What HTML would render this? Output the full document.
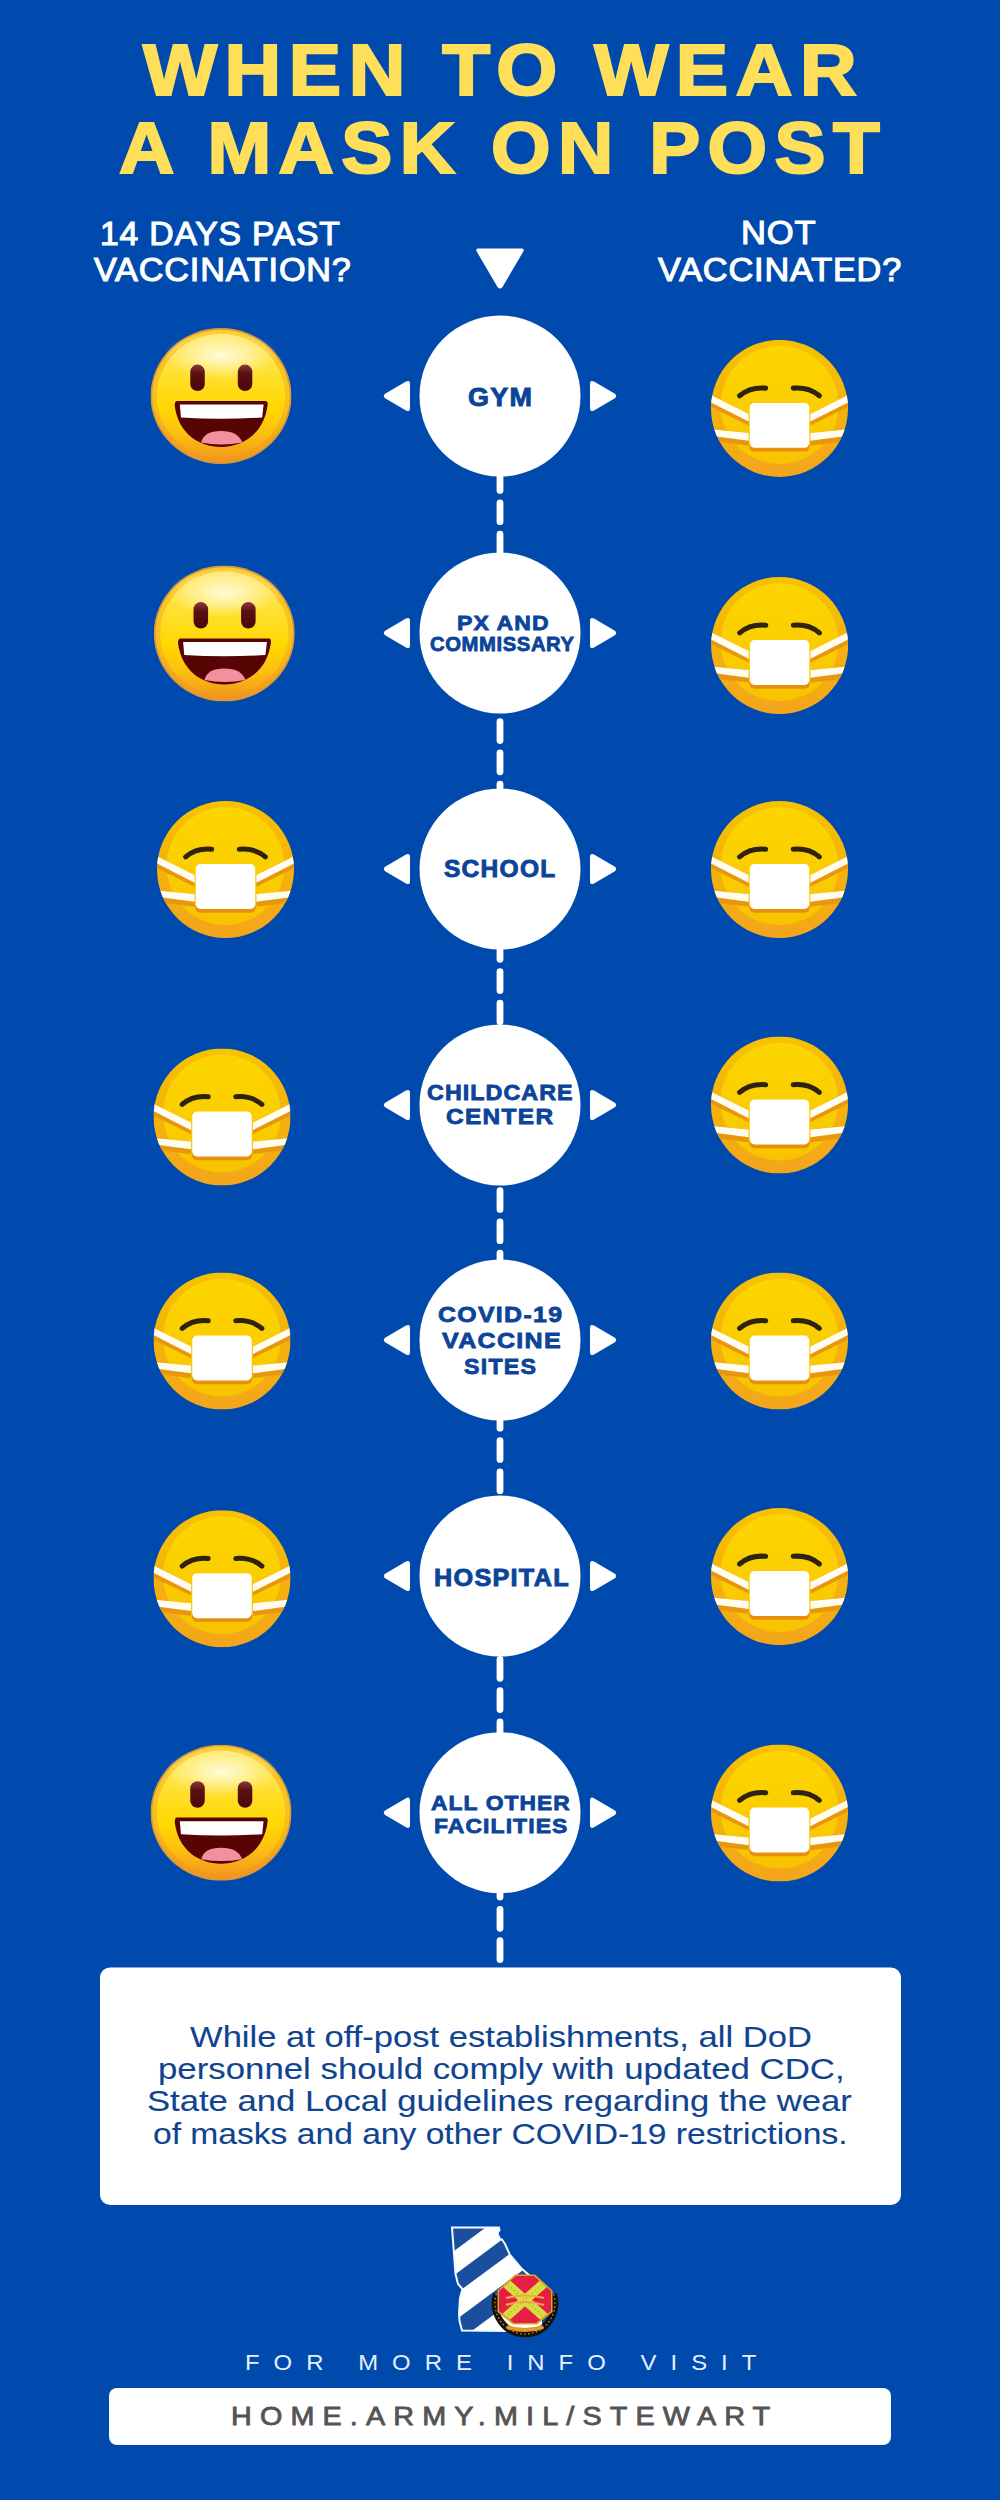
<!DOCTYPE html>
<html><head><meta charset="utf-8"><title>When to wear a mask on post</title>
<style>
html,body{margin:0;padding:0}
body{width:1000px;height:2500px;background:#004AAD;position:relative;overflow:hidden;font-family:"Liberation Sans",sans-serif}
svg.g{position:absolute;left:0;top:0}
.t{position:absolute;white-space:nowrap;transform-origin:0 0;font-family:"Liberation Sans",sans-serif}
</style></head><body>
<svg class="g" width="1000" height="2500" viewBox="0 0 1000 2500">

<defs>
 <clipPath id="mclip"><circle cx="50" cy="50" r="50"/></clipPath>
 <linearGradient id="mface" x1="0" y1="0" x2="0" y2="1">
  <stop offset="0" stop-color="#FCD600"/>
  <stop offset="0.6" stop-color="#FACC00"/>
  <stop offset="1" stop-color="#F8C200"/>
 </linearGradient>
 <linearGradient id="mring" x1="0" y1="0" x2="0" y2="1">
  <stop offset="0" stop-color="#F7C200"/>
  <stop offset="0.5" stop-color="#F5B20A"/>
  <stop offset="1" stop-color="#F4A51C"/>
 </linearGradient>
 <linearGradient id="grim" x1="0" y1="0" x2="0" y2="1">
  <stop offset="0" stop-color="#F9CB30"/>
  <stop offset="0.6" stop-color="#F8BE1A"/>
  <stop offset="1" stop-color="#F0951E"/>
 </linearGradient>
 <linearGradient id="gbase" x1="0" y1="0" x2="0" y2="1">
  <stop offset="0" stop-color="#FFEA70"/>
  <stop offset="0.35" stop-color="#FFDF2A"/>
  <stop offset="0.6" stop-color="#FFD700"/>
  <stop offset="0.8" stop-color="#FDC010"/>
  <stop offset="1" stop-color="#F39A1C"/>
 </linearGradient>
 <radialGradient id="ghl" cx="0.5" cy="0.5" r="0.5">
  <stop offset="0" stop-color="#FFFCE6" stop-opacity="0.95"/>
  <stop offset="0.55" stop-color="#FFF6B8" stop-opacity="0.6"/>
  <stop offset="1" stop-color="#FFF0A0" stop-opacity="0"/>
 </radialGradient>
 <linearGradient id="geye" x1="0" y1="0" x2="0" y2="1">
  <stop offset="0" stop-color="#8A3A3A"/>
  <stop offset="0.35" stop-color="#5A1010"/>
  <stop offset="1" stop-color="#4A0707"/>
 </linearGradient>
 <symbol id="mask" viewBox="0 0 100 100">
  <circle cx="50" cy="50" r="50" fill="url(#mring)"/>
  <circle cx="50" cy="47.5" r="43" fill="url(#mface)"/>
  <g clip-path="url(#mclip)">
   <polygon points="-5,37.8 27.5,54 27.5,62.5 -5,46.6" fill="#E8960E"/>
   <polygon points="-5,37.8 27.5,54 27.5,59.6 -5,43.1" fill="#FFFDF2"/>
   <polygon points="105,37.8 72.5,54 72.5,62.5 105,46.6" fill="#E8960E"/>
   <polygon points="105,37.8 72.5,54 72.5,59.6 105,43.1" fill="#FFFDF2"/>
   <polygon points="-5,64.8 27.5,67.9 27.5,77.2 -5,73" fill="#E8960E"/>
   <polygon points="-5,64.8 27.5,67.9 27.5,73.6 -5,69.3" fill="#FFFDF2"/>
   <polygon points="105,64.8 72.5,67.9 72.5,77.2 105,73" fill="#E8960E"/>
   <polygon points="105,64.8 72.5,67.9 72.5,73.6 105,69.3" fill="#FFFDF2"/>
  </g>
  <rect x="28" y="73.5" width="44" height="8" rx="3.5" fill="#E8900E"/>
  <rect x="28.3" y="46" width="43.4" height="32.8" rx="3.5" fill="#FFFFFF"/>
  <path d="M20.9,40.8 Q28.6,34.2 39.9,35.2" fill="none" stroke="#2E2210" stroke-width="3.7" stroke-linecap="round"/>
  <path d="M60.1,35.2 Q71.4,34.2 79.1,40.8" fill="none" stroke="#2E2210" stroke-width="3.7" stroke-linecap="round"/>
 </symbol>
 <symbol id="grin" viewBox="0 0 100 100" preserveAspectRatio="none">
  <circle cx="50" cy="50" r="50" fill="#D8983A"/>
  <circle cx="50" cy="50" r="48.8" fill="url(#grim)"/>
  <circle cx="50" cy="50" r="45.5" fill="url(#gbase)"/>
  <ellipse cx="50" cy="20" rx="40" ry="18" fill="url(#ghl)"/>
  <rect x="28.2" y="26.9" width="10.3" height="19.5" rx="5.15" fill="url(#geye)"/>
  <rect x="61.9" y="26.9" width="10.3" height="19.5" rx="5.15" fill="url(#geye)"/>
  <path d="M18.5,53.6 L82,53.6 Q83.5,54 83,57 C80.5,77 66,87.5 50,87.5 C34,87.5 19.5,77 17.2,57 Q17,54 18.5,53.6 Z" fill="#560404"/>
  <path d="M20.8,56.3 L80.2,56.3 L79.2,65.8 Q50,67.8 21.6,65.8 Z" fill="#FFFFFF"/>
  <path d="M35.9,84.2 Q38,75.8 50,75.8 Q62,75.8 65.1,84.2 Q50,87 35.9,84.2 Z" fill="#F4909E"/>
 </symbol>
</defs>

<path d="M478.5,248.5 L521.5,248.5 Q525,248.5 523,252 L502.5,287 Q500,290 497.5,287 L477,252 Q475,248.5 478.5,248.5 Z" fill="#fff"/>
<rect x="496.6" y="405.73" width="6.8" height="25.6" rx="3.4" fill="#fff"/>
<rect x="496.6" y="436.98" width="6.8" height="25.6" rx="3.4" fill="#fff"/>
<rect x="496.6" y="468.24" width="6.8" height="25.6" rx="3.4" fill="#fff"/>
<rect x="496.6" y="499.50" width="6.8" height="25.6" rx="3.4" fill="#fff"/>
<rect x="496.6" y="530.76" width="6.8" height="25.6" rx="3.4" fill="#fff"/>
<rect x="496.6" y="562.02" width="6.8" height="25.6" rx="3.4" fill="#fff"/>
<rect x="496.6" y="593.27" width="6.8" height="25.6" rx="3.4" fill="#fff"/>
<rect x="496.6" y="624.53" width="6.8" height="25.6" rx="3.4" fill="#fff"/>
<rect x="496.6" y="655.79" width="6.8" height="25.6" rx="3.4" fill="#fff"/>
<rect x="496.6" y="687.05" width="6.8" height="25.6" rx="3.4" fill="#fff"/>
<rect x="496.6" y="718.31" width="6.8" height="25.6" rx="3.4" fill="#fff"/>
<rect x="496.6" y="749.56" width="6.8" height="25.6" rx="3.4" fill="#fff"/>
<rect x="496.6" y="780.82" width="6.8" height="25.6" rx="3.4" fill="#fff"/>
<rect x="496.6" y="812.08" width="6.8" height="25.6" rx="3.4" fill="#fff"/>
<rect x="496.6" y="843.34" width="6.8" height="25.6" rx="3.4" fill="#fff"/>
<rect x="496.6" y="874.60" width="6.8" height="25.6" rx="3.4" fill="#fff"/>
<rect x="496.6" y="905.85" width="6.8" height="25.6" rx="3.4" fill="#fff"/>
<rect x="496.6" y="937.11" width="6.8" height="25.6" rx="3.4" fill="#fff"/>
<rect x="496.6" y="968.37" width="6.8" height="25.6" rx="3.4" fill="#fff"/>
<rect x="496.6" y="999.63" width="6.8" height="25.6" rx="3.4" fill="#fff"/>
<rect x="496.6" y="1030.89" width="6.8" height="25.6" rx="3.4" fill="#fff"/>
<rect x="496.6" y="1062.14" width="6.8" height="25.6" rx="3.4" fill="#fff"/>
<rect x="496.6" y="1093.40" width="6.8" height="25.6" rx="3.4" fill="#fff"/>
<rect x="496.6" y="1124.66" width="6.8" height="25.6" rx="3.4" fill="#fff"/>
<rect x="496.6" y="1155.92" width="6.8" height="25.6" rx="3.4" fill="#fff"/>
<rect x="496.6" y="1187.18" width="6.8" height="25.6" rx="3.4" fill="#fff"/>
<rect x="496.6" y="1218.43" width="6.8" height="25.6" rx="3.4" fill="#fff"/>
<rect x="496.6" y="1249.69" width="6.8" height="25.6" rx="3.4" fill="#fff"/>
<rect x="496.6" y="1280.95" width="6.8" height="25.6" rx="3.4" fill="#fff"/>
<rect x="496.6" y="1312.21" width="6.8" height="25.6" rx="3.4" fill="#fff"/>
<rect x="496.6" y="1343.47" width="6.8" height="25.6" rx="3.4" fill="#fff"/>
<rect x="496.6" y="1374.72" width="6.8" height="25.6" rx="3.4" fill="#fff"/>
<rect x="496.6" y="1405.98" width="6.8" height="25.6" rx="3.4" fill="#fff"/>
<rect x="496.6" y="1437.24" width="6.8" height="25.6" rx="3.4" fill="#fff"/>
<rect x="496.6" y="1468.50" width="6.8" height="25.6" rx="3.4" fill="#fff"/>
<rect x="496.6" y="1499.76" width="6.8" height="25.6" rx="3.4" fill="#fff"/>
<rect x="496.6" y="1531.01" width="6.8" height="25.6" rx="3.4" fill="#fff"/>
<rect x="496.6" y="1562.27" width="6.8" height="25.6" rx="3.4" fill="#fff"/>
<rect x="496.6" y="1593.53" width="6.8" height="25.6" rx="3.4" fill="#fff"/>
<rect x="496.6" y="1624.79" width="6.8" height="25.6" rx="3.4" fill="#fff"/>
<rect x="496.6" y="1656.05" width="6.8" height="25.6" rx="3.4" fill="#fff"/>
<rect x="496.6" y="1687.30" width="6.8" height="25.6" rx="3.4" fill="#fff"/>
<rect x="496.6" y="1718.56" width="6.8" height="25.6" rx="3.4" fill="#fff"/>
<rect x="496.6" y="1749.82" width="6.8" height="25.6" rx="3.4" fill="#fff"/>
<rect x="496.6" y="1781.08" width="6.8" height="25.6" rx="3.4" fill="#fff"/>
<rect x="496.6" y="1812.34" width="6.8" height="25.6" rx="3.4" fill="#fff"/>
<rect x="496.6" y="1843.59" width="6.8" height="25.6" rx="3.4" fill="#fff"/>
<rect x="496.6" y="1874.85" width="6.8" height="25.6" rx="3.4" fill="#fff"/>
<rect x="496.6" y="1906.11" width="6.8" height="25.6" rx="3.4" fill="#fff"/>
<rect x="496.6" y="1937.37" width="6.8" height="25.6" rx="3.4" fill="#fff"/>
<circle cx="500" cy="396" r="80.5" fill="#fff"/>
<path d="M385.5,393.5 L406,381.5 Q410,379.5 410,384 L410,408 Q410,412.5 406,410.5 L385.5,398.5 Q382,396 385.5,393.5 Z" fill="#fff"/>
<path d="M614.5,393.5 L594,381.5 Q590,379.5 590,384 L590,408 Q590,412.5 594,410.5 L614.5,398.5 Q618,396 614.5,393.5 Z" fill="#fff"/>
<circle cx="500" cy="633" r="80.5" fill="#fff"/>
<path d="M385.5,630.5 L406,618.5 Q410,616.5 410,621 L410,645 Q410,649.5 406,647.5 L385.5,635.5 Q382,633 385.5,630.5 Z" fill="#fff"/>
<path d="M614.5,630.5 L594,618.5 Q590,616.5 590,621 L590,645 Q590,649.5 594,647.5 L614.5,635.5 Q618,633 614.5,630.5 Z" fill="#fff"/>
<circle cx="500" cy="869" r="80.5" fill="#fff"/>
<path d="M385.5,866.5 L406,854.5 Q410,852.5 410,857 L410,881 Q410,885.5 406,883.5 L385.5,871.5 Q382,869 385.5,866.5 Z" fill="#fff"/>
<path d="M614.5,866.5 L594,854.5 Q590,852.5 590,857 L590,881 Q590,885.5 594,883.5 L614.5,871.5 Q618,869 614.5,866.5 Z" fill="#fff"/>
<circle cx="500" cy="1105" r="80.5" fill="#fff"/>
<path d="M385.5,1102.5 L406,1090.5 Q410,1088.5 410,1093 L410,1117 Q410,1121.5 406,1119.5 L385.5,1107.5 Q382,1105 385.5,1102.5 Z" fill="#fff"/>
<path d="M614.5,1102.5 L594,1090.5 Q590,1088.5 590,1093 L590,1117 Q590,1121.5 594,1119.5 L614.5,1107.5 Q618,1105 614.5,1102.5 Z" fill="#fff"/>
<circle cx="500" cy="1340" r="80.5" fill="#fff"/>
<path d="M385.5,1337.5 L406,1325.5 Q410,1323.5 410,1328 L410,1352 Q410,1356.5 406,1354.5 L385.5,1342.5 Q382,1340 385.5,1337.5 Z" fill="#fff"/>
<path d="M614.5,1337.5 L594,1325.5 Q590,1323.5 590,1328 L590,1352 Q590,1356.5 594,1354.5 L614.5,1342.5 Q618,1340 614.5,1337.5 Z" fill="#fff"/>
<circle cx="500" cy="1576" r="80.5" fill="#fff"/>
<path d="M385.5,1573.5 L406,1561.5 Q410,1559.5 410,1564 L410,1588 Q410,1592.5 406,1590.5 L385.5,1578.5 Q382,1576 385.5,1573.5 Z" fill="#fff"/>
<path d="M614.5,1573.5 L594,1561.5 Q590,1559.5 590,1564 L590,1588 Q590,1592.5 594,1590.5 L614.5,1578.5 Q618,1576 614.5,1573.5 Z" fill="#fff"/>
<circle cx="500" cy="1812.7" r="80.5" fill="#fff"/>
<path d="M385.5,1810.2 L406,1798.2 Q410,1796.2 410,1800.7 L410,1824.7 Q410,1829.2 406,1827.2 L385.5,1815.2 Q382,1812.7 385.5,1810.2 Z" fill="#fff"/>
<path d="M614.5,1810.2 L594,1798.2 Q590,1796.2 590,1800.7 L590,1824.7 Q590,1829.2 594,1827.2 L614.5,1815.2 Q618,1812.7 614.5,1810.2 Z" fill="#fff"/>
<use href="#grin" x="150.5" y="328.0" width="141" height="136"/>
<use href="#mask" x="711.0" y="339.9" width="137" height="137"/>
<use href="#grin" x="153.8" y="565.5" width="141" height="136"/>
<use href="#mask" x="711.1" y="577.0" width="137" height="137"/>
<use href="#mask" x="157.0" y="801.0" width="137" height="137"/>
<use href="#mask" x="711.0" y="801.0" width="137" height="137"/>
<use href="#mask" x="153.5" y="1048.5" width="137" height="137"/>
<use href="#mask" x="711.0" y="1036.5" width="137" height="137"/>
<use href="#mask" x="153.5" y="1272.5" width="137" height="137"/>
<use href="#mask" x="711.0" y="1272.5" width="137" height="137"/>
<use href="#mask" x="153.5" y="1510.2" width="137" height="137"/>
<use href="#mask" x="711.0" y="1508.1" width="137" height="137"/>
<use href="#grin" x="150.5" y="1744.7" width="141" height="136"/>
<use href="#mask" x="711.0" y="1744.5" width="137" height="137"/>
<rect x="100" y="1967.5" width="801" height="237.5" rx="10" fill="#fff"/>
<rect x="109" y="2388" width="782" height="57" rx="8" fill="#fff"/>
<clipPath id="gaclip"><path d="M452,2227.5 L499,2227.5 L499.5,2230 L497.5,2233 L499.5,2238.5 L502,2239.5 L505,2244 L510,2255 L521,2268 L530,2276 L541,2290 L541,2331 L505,2331 L462,2330.5 L459.5,2321 L459,2314 L460,2298 L462.5,2289 L458,2284 L455.5,2274 Z"/></clipPath>
<path d="M452,2227.5 L499,2227.5 L499.5,2230 L497.5,2233 L499.5,2238.5 L502,2239.5 L505,2244 L510,2255 L521,2268 L530,2276 L541,2290 L541,2331 L505,2331 L462,2330.5 L459.5,2321 L459,2314 L460,2298 L462.5,2289 L458,2284 L455.5,2274 Z" fill="#fff"/>
<g clip-path="url(#gaclip)"><g transform="rotate(-36.5 485 2228)">
<rect x="300" y="2100" width="400" height="128" fill="#1C4E9E"/>
<rect x="300" y="2247.5" width="400" height="16" fill="#1C4E9E"/>
<rect x="300" y="2284.4" width="400" height="18.5" fill="#1C4E9E"/>
</g></g>
<path d="M452,2227.5 L499,2227.5 L499.5,2230 L497.5,2233 L499.5,2238.5 L502,2239.5 L505,2244 L510,2255 L521,2268 L530,2276 L541,2290 L541,2331 L505,2331 L462,2330.5 L459.5,2321 L459,2314 L460,2298 L462.5,2289 L458,2284 L455.5,2274 Z" fill="none" stroke="#F4F8FF" stroke-width="2"/>
<clipPath id="shclip"><polygon points="-9,-27 9,-27 26,-12 26,8 11,20 -11,20 -26,8 -26,-12"/></clipPath>
<g transform="translate(525,2303)">
<path d="M-28.7,-9 A30,31 0 1 0 28.7,-9" fill="none" stroke="#15110a" stroke-width="6.5"/>
<path d="M-28.7,-9 A30,31 0 1 0 28.7,-9" fill="none" stroke="#C9A03A" stroke-width="1.2" stroke-dasharray="1.5 2.5"/>
<path d="M-18,24 Q0,30 18,24" stroke="#E39A2A" stroke-width="4" fill="none"/>
<polygon points="-10,-28.5 10,-28.5 27.5,-12.5 27.5,9 12,21.5 -12,21.5 -27.5,9 -27.5,-12.5" fill="#E3A02A"/>
<polygon points="-9,-27 9,-27 26,-12 26,8 11,20 -11,20 -26,8 -26,-12" fill="#E41F44"/>
<g clip-path="url(#shclip)">
<path d="M-26,-26 L26,20 M26,-26 L-26,20" stroke="#D8DD42" stroke-width="9.5"/>
<path d="M-26,-26 L26,20 M26,-26 L-26,20" stroke="#A8A030" stroke-width="1.2" stroke-dasharray="1 3"/>
</g>
<path d="M-19,-5 Q0,-10 19,-5 M-19,2 Q0,-4 19,2" stroke="#F5A640" stroke-width="2.2" fill="none"/>
</g>
</svg>
<div class="t" style="left:143.08px;top:34.00px;font-size:72.5px;line-height:72.5px;font-weight:700;color:#FFDE59;letter-spacing:7.0px;-webkit-text-stroke:2.2px #FFDE59;transform:scaleX(1.0817)">WHEN TO WEAR</div>
<div class="t" style="left:119.00px;top:111.50px;font-size:72.5px;line-height:72.5px;font-weight:700;color:#FFDE59;letter-spacing:7.0px;-webkit-text-stroke:2.2px #FFDE59;transform:scaleX(1.0555)">A MASK ON POST</div>
<div class="t" style="left:99.93px;top:217.50px;font-size:32.5px;line-height:32.5px;font-weight:400;color:#FFFFFF;letter-spacing:0.8px;-webkit-text-stroke:1.1px #FFFFFF;transform:scaleX(1.0357)">14 DAYS PAST</div>
<div class="t" style="left:94.00px;top:254.00px;font-size:32.5px;line-height:32.5px;font-weight:400;color:#FFFFFF;letter-spacing:0.8px;-webkit-text-stroke:1.1px #FFFFFF;transform:scaleX(1.0521)">VACCINATION?</div>
<div class="t" style="left:741.47px;top:217.30px;font-size:32.5px;line-height:32.5px;font-weight:400;color:#FFFFFF;letter-spacing:0.8px;-webkit-text-stroke:1.1px #FFFFFF;transform:scaleX(1.0627)">NOT</div>
<div class="t" style="left:658.00px;top:253.50px;font-size:32.5px;line-height:32.5px;font-weight:400;color:#FFFFFF;letter-spacing:0.8px;-webkit-text-stroke:1.1px #FFFFFF;transform:scaleX(1.0543)">VACCINATED?</div>
<div class="t" style="left:467.96px;top:384.00px;font-size:26px;line-height:26px;font-weight:700;color:#0B4499;letter-spacing:1.2px;-webkit-text-stroke:0.9px #0B4499;transform:scaleX(1.0354)">GYM</div>
<div class="t" style="left:456.50px;top:612.00px;font-size:21px;line-height:21px;font-weight:700;color:#0B4499;letter-spacing:1.0px;-webkit-text-stroke:0.8px #0B4499;transform:scaleX(1.0963)">PX AND</div>
<div class="t" style="left:430.40px;top:633.00px;font-size:21px;line-height:21px;font-weight:700;color:#0B4499;letter-spacing:0.6px;-webkit-text-stroke:0.8px #0B4499;transform:scaleX(0.9652)">COMMISSARY</div>
<div class="t" style="left:444.40px;top:857.00px;font-size:24px;line-height:24px;font-weight:700;color:#0B4499;letter-spacing:1.2px;-webkit-text-stroke:0.9px #0B4499;transform:scaleX(1.0239)">SCHOOL</div>
<div class="t" style="left:426.94px;top:1081.50px;font-size:22px;line-height:22px;font-weight:700;color:#0B4499;letter-spacing:1.0px;-webkit-text-stroke:0.8px #0B4499;transform:scaleX(1.0588)">CHILDCARE</div>
<div class="t" style="left:446.49px;top:1106.00px;font-size:22px;line-height:22px;font-weight:700;color:#0B4499;letter-spacing:1.2px;-webkit-text-stroke:0.8px #0B4499;transform:scaleX(1.1095)">CENTER</div>
<div class="t" style="left:437.89px;top:1304.40px;font-size:22.5px;line-height:22.5px;font-weight:700;color:#0B4499;letter-spacing:1.2px;-webkit-text-stroke:0.8px #0B4499;transform:scaleX(1.1051)">COVID-19</div>
<div class="t" style="left:442.00px;top:1330.00px;font-size:22.5px;line-height:22.5px;font-weight:700;color:#0B4499;letter-spacing:1.2px;-webkit-text-stroke:0.8px #0B4499;transform:scaleX(1.1111)">VACCINE</div>
<div class="t" style="left:464.00px;top:1355.60px;font-size:22.5px;line-height:22.5px;font-weight:700;color:#0B4499;letter-spacing:1.2px;-webkit-text-stroke:0.8px #0B4499;transform:scaleX(1.0315)">SITES</div>
<div class="t" style="left:433.95px;top:1565.60px;font-size:24px;line-height:24px;font-weight:700;color:#0B4499;letter-spacing:1.2px;-webkit-text-stroke:0.9px #0B4499;transform:scaleX(1.0518)">HOSPITAL</div>
<div class="t" style="left:431.00px;top:1791.60px;font-size:21px;line-height:21px;font-weight:700;color:#0B4499;letter-spacing:1.0px;-webkit-text-stroke:0.8px #0B4499;transform:scaleX(1.0866)">ALL OTHER</div>
<div class="t" style="left:433.91px;top:1815.00px;font-size:21px;line-height:21px;font-weight:700;color:#0B4499;letter-spacing:1.0px;-webkit-text-stroke:0.8px #0B4499;transform:scaleX(1.0909)">FACILITIES</div>
<div class="t" style="left:190.00px;top:2022.00px;font-size:30px;line-height:30px;font-weight:400;color:#0F4490;-webkit-text-stroke:0.1px #0F4490;transform:scaleX(1.1524)">While at off-post establishments, all DoD</div>
<div class="t" style="left:157.68px;top:2054.40px;font-size:30px;line-height:30px;font-weight:400;color:#0F4490;-webkit-text-stroke:0.1px #0F4490;transform:scaleX(1.1599)">personnel should comply with updated CDC,</div>
<div class="t" style="left:146.69px;top:2086.40px;font-size:30px;line-height:30px;font-weight:400;color:#0F4490;-webkit-text-stroke:0.1px #0F4490;transform:scaleX(1.1546)">State and Local guidelines regarding the wear</div>
<div class="t" style="left:152.88px;top:2118.60px;font-size:30px;line-height:30px;font-weight:400;color:#0F4490;-webkit-text-stroke:0.1px #0F4490;transform:scaleX(1.1199)">of masks and any other COVID-19 restrictions.</div>
<div class="t" style="left:245.40px;top:2352.00px;font-size:21.7px;line-height:21.7px;font-weight:400;color:#E6F0FF;letter-spacing:12.75px;transform:scaleX(1.1010)">FOR MORE INFO VISIT</div>
<div class="t" style="left:230.74px;top:2404.20px;font-size:25.5px;line-height:25.5px;font-weight:400;color:#545454;letter-spacing:7.2px;-webkit-text-stroke:0.8px #545454;transform:scaleX(1.1282)">HOME.ARMY.MIL/STEWART</div>
</body></html>
